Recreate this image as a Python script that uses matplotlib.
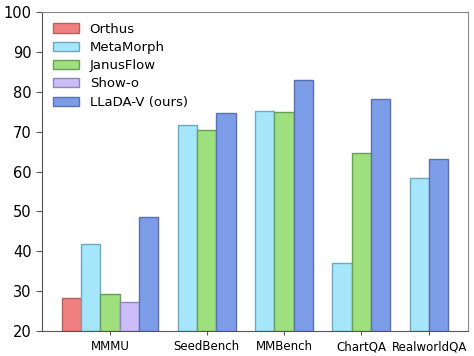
import matplotlib
matplotlib.use("Agg")
import matplotlib.pyplot as plt

# Benchmarks and scores (None = not reported)
benchmarks = ["MMMU", "SeedBench", "MMBench", "ChartQA", "RealworldQA"]
models = ["Orthus", "MetaMorph", "JanusFlow", "Show-o", "LLaDA-V (ours)"]
orthus = [28.2, None, None, None, None]
metamorph = [41.8, 71.8, 75.2, 37.1, 58.3]
janusflow = [29.3, 70.5, 74.9, 64.6, None]
show_o = [27.4, None, None, None, None]
llada_v = [48.6, 74.8, 82.9, 78.3, 63.2]

scores = [orthus, metamorph, janusflow, show_o, llada_v]
colors = ["#F08080", "#A6E6FA", "#9EDF7E", "#CBBDF9", "#7E9DE8"]
edges = ["#B86060", "#6FA8BE", "#6A9E58", "#8F86B8", "#5A70B0"]

fig, ax = plt.subplots(figsize=(4.74, 3.56), dpi=100)
fig.subplots_adjust(left=0.089, right=0.987, top=0.966, bottom=0.07)

# bars are packed per group: only present values take a slot, one empty slot between groups
pos = 0
tick_pos = []
labelled = set()
for b in range(len(benchmarks)):
    start = pos
    for m in range(len(models)):
        v = scores[m][b]
        if v is None:
            continue
        lab = models[m] if m not in labelled else None
        labelled.add(m)
        ax.bar(pos, v - 20, bottom=20, width=1.0, color=colors[m],
               edgecolor=edges[m], linewidth=1.0, label=lab)
        pos += 1
    tick_pos.append((start + pos - 1) / 2)
    pos += 1

# pos is now one past the trailing gap slot
ax.set_xlim(-1.5, pos - 0.5)
ax.set_ylim(20, 100)
ax.set_yticks(range(20, 101, 10))
ax.set_xticks(tick_pos)
ax.set_xticklabels(benchmarks, fontsize=8.5)
ax.tick_params(axis="y", labelsize=10.5, length=4, color="#555555")
ax.tick_params(axis="x", length=3, color="#555555")

for s in ["left", "bottom"]:
    ax.spines[s].set_color("#555555")
for s in ["top", "right"]:
    ax.spines[s].set_color("#888888")

# legend ordered as in the reference
handles, labels = ax.get_legend_handles_labels()
order = [labels.index(m) for m in models]
ax.legend([handles[i] for i in order], [labels[i] for i in order],
          loc="upper left", frameon=False, fontsize=9.5,
          handlelength=2.0, labelspacing=0.4, borderaxespad=0.4)

fig.savefig("out.png", dpi=100)
